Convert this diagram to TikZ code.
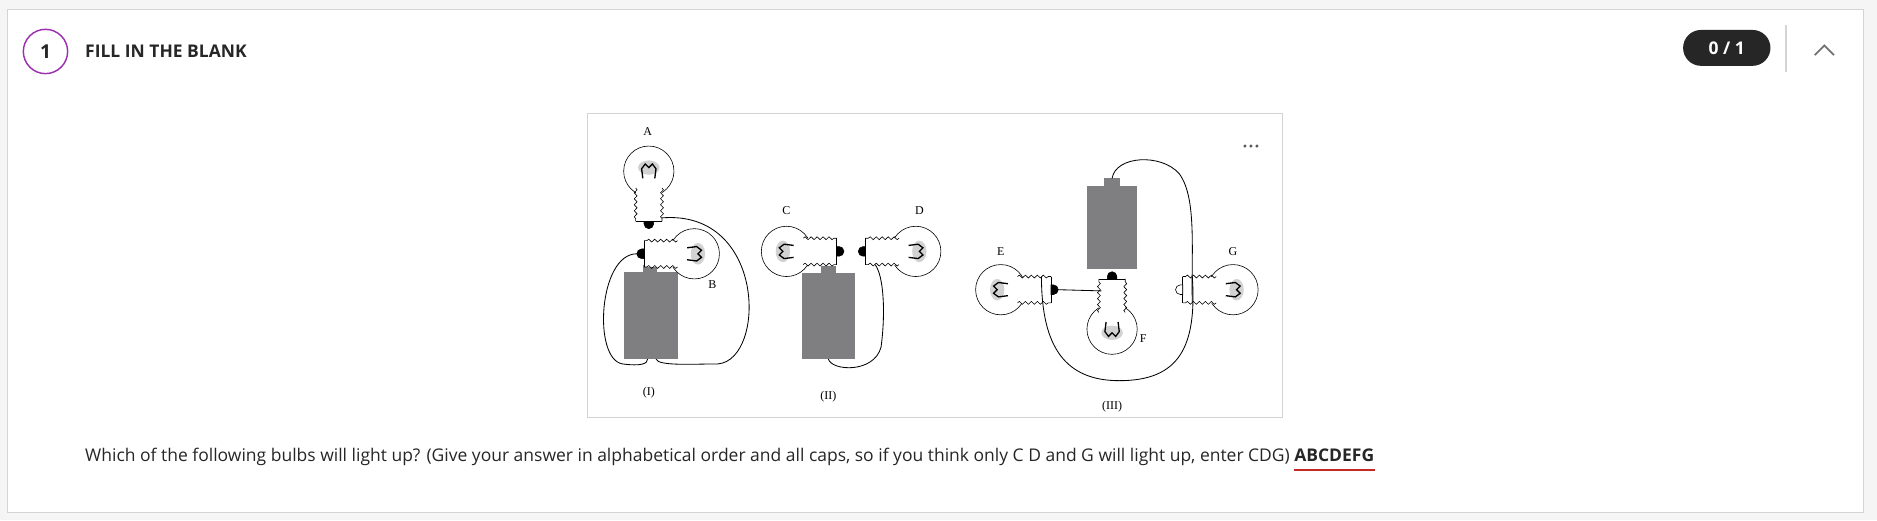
\documentclass[tikz,border=0pt]{standalone}
\usepackage{fontspec}
\setmainfont{Open Sans}
\newfontfamily\serif{Liberation Serif}
\usetikzlibrary{decorations.pathmorphing}
\definecolor{bg}{HTML}{F5F5F5}
\definecolor{cardline}{HTML}{D4D4D4}
\definecolor{purp}{HTML}{9B2FAE}
\definecolor{dark}{HTML}{262626}
\definecolor{batt}{HTML}{7F7F82}
\definecolor{ulred}{HTML}{C62828}
\newcommand{\mybulb}[5]{% name, x, y, angle, tip fill
 \begin{scope}[shift={(#2,#3)},rotate=#4]
  \draw[line width=0.5pt,fill=white] (0,0) circle (21);
  \fill[gray!35] (-3,0) ellipse (6 and 9);
  \draw[line width=1.1pt] (6,-5) -- (-2,-6) -- (-6,-3) -- (-3,0) -- (-6,3) -- (-2,6) -- (6,5);
  \fill[white] (14,-11) rectangle (42,11);
  \draw[line width=0.5pt,decorate,decoration={snake,amplitude=1.2,segment length=5}] (14,11) -- (42,11);
  \draw[line width=0.5pt,decorate,decoration={snake,amplitude=1.2,segment length=5}] (14,-11) -- (42,-11);
  \draw[line width=0.5pt] (42,-11) -- (42,11);
  \draw[line width=0.5pt,fill=#5] (42,-4) -- (44,-4) arc (-90:90:4) -- (42,4) -- cycle;
  \coordinate (#1tip) at (48,0);
  \coordinate (#1up) at (34,11);
  \coordinate (#1dn) at (34,-11);
 \end{scope}}
\begin{document}
\begin{tikzpicture}[x=1pt,y=-1pt,
  wire/.style={line width=0.7pt},
  clab/.style={font=\serif\fontsize{10}{11}\selectfont}]
\useasboundingbox (0,0) rectangle (1568,434.4);
\fill[bg] (0,0) rectangle (1568,434.4);
\draw[cardline,fill=white,line width=0.8pt] (6,8) rectangle (1557,428);
% header
\node[draw=purp,line width=1.2pt,circle,minimum size=37pt,inner sep=0pt,font=\bfseries\fontsize{16}{18}\selectfont,text=dark] (num) at (38,43) {1};
\node[anchor=west,font=\bfseries\fontsize{14.6}{16}\selectfont,text=dark,inner sep=0pt] (title) at (71,43) {FILL IN THE BLANK};
\node[fill=dark,rounded corners=15pt,minimum width=73pt,minimum height=30pt,text=white,font=\bfseries\fontsize{14.6}{16}\selectfont] (badge) at (1442.5,40) {0 / 1};
\draw[cardline,line width=1pt] (1492,21) -- (1492,60);
\draw[gray!90!black,line width=1.5pt] (1516,46) -- (1524,38) -- (1532,46);
% image frame
\draw[cardline,line width=0.8pt] (491,95) rectangle (1071,349);
\foreach \dx in {-5,0,5} \fill[gray!70!black] (1045+\dx,122) circle (1.4);
% ---------- Circuit I
\fill[batt] (521,227) rectangle (566,300);
\fill[batt] (537,221) rectangle (549,227);
\mybulb{B}{580}{212}{180}{black}
\mybulb{A}{542}{143}{-90}{black}
\node[clab] (lA) at (541,110) {A};
\node[clab] (lB) at (595,238) {B};
\node[clab] (lI) at (542,328) {(I)};
\coordinate (b1) at (541,300);
\coordinate (b2) at (548,300);
\draw[wire] (Btip) .. controls (500,212) and (495,300) .. (520,304) .. controls (535,306) and (541,304) .. (b1);
\draw[wire] (b2) .. controls (550,306) and (580,304) .. (600,304) .. controls (640,300) and (640,175) .. (553,182);
% ---------- Circuit II
\fill[batt] (670,228) rectangle (714,300);
\fill[batt] (686,222) rectangle (698,228);
\mybulb{C}{657}{210}{0}{black}
\mybulb{D}{765}{210}{180}{black}
\node[clab] (lC) at (657,176) {C};
\node[clab] (lD) at (768,176) {D};
\node[clab] (lII) at (692,331) {(II)};
\coordinate (b3) at (692,300);
\draw[wire] (b3) .. controls (695,310) and (730,312) .. (736,290) .. controls (740,260) and (738,230) .. (Ddn);
% ---------- Circuit III
\fill[batt] (908,155) rectangle (950,225);
\fill[batt] (922,149) rectangle (936,155);
\mybulb{F}{929}{275}{90}{black}
\mybulb{E}{836}{242}{0}{black}
\mybulb{G}{1030}{242}{180}{white}
\node[clab] (lE) at (836,210) {E};
\node[clab] (lG) at (1030,210) {G};
\node[clab] (lF) at (955,283) {F};
\node[clab] (lIII) at (929,340) {(III)};
\coordinate (b4) at (929,149);
\coordinate (fl) at (920,243);
\draw[wire] (Etip) -- (fl);
\draw[wire] (b4) .. controls (932,130) and (970,128) .. (985,145) .. controls (1000,165) and (995,210) .. (Gdn);
\draw[wire] (Edn) .. controls (870,290) and (890,318) .. (935,318) .. controls (985,318) and (1000,290) .. (Gup);
% question
\node[anchor=west,inner sep=0pt,font=\fontsize{14.6}{17}\selectfont,text=dark] (q) at (71,382) {Which of the following bulbs will light up? (Give your answer in alphabetical order and all caps, so if you think only C D and G will light up, enter CDG) \textbf{ABCDEFG}};
\draw[ulred,line width=1.2pt] (1081,392.5) -- (1149,392.5);
\end{tikzpicture}
\end{document}
